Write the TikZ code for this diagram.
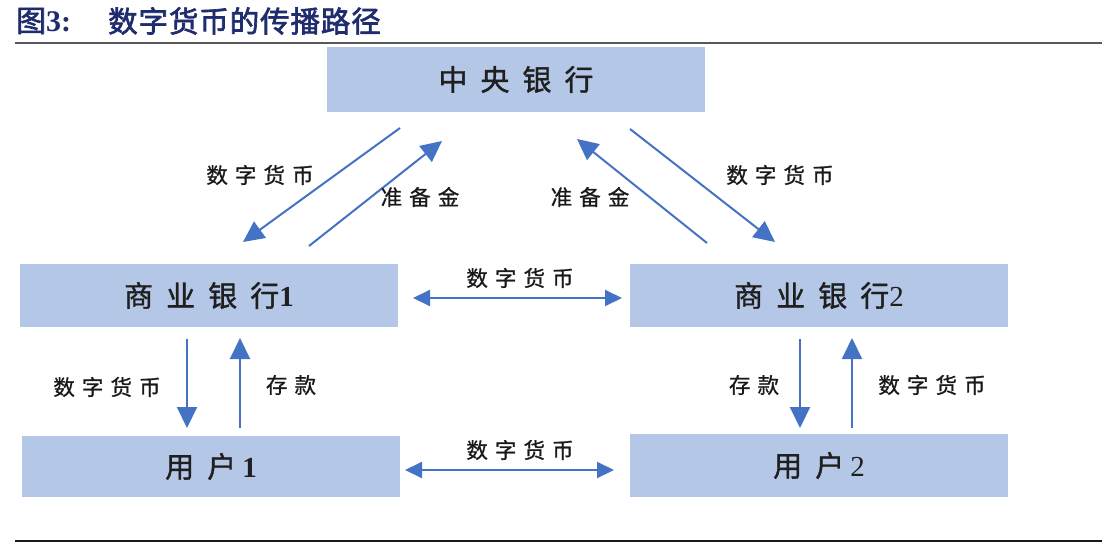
\documentclass[tikz,border=0pt]{standalone}
\usepackage{fontspec}
\setmainfont{Liberation Serif}
\newfontfamily\cjk{Noto Sans CJK SC}
\newfontfamily\cjktitle[FakeBold=2.2,LetterSpace=3]{Noto Sans CJK SC}
\newfontfamily\cjkbox[LetterSpace=45,FakeBold=1.2]{Noto Sans CJK SC}
\newfontfamily\cjklab[LetterSpace=33,FakeBold=1]{Noto Sans CJK SC}
\usetikzlibrary{arrows.meta}
\definecolor{boxfill}{HTML}{B4C7E7}
\definecolor{arr}{HTML}{4472C4}
\definecolor{navy}{HTML}{1F2C6E}
\tikzset{
  bank/.style={rectangle, fill=boxfill, minimum width=378pt, minimum height=63pt, inner sep=0pt,
    font=\cjkbox\fontsize{29}{32}\selectfont, text=black!88},
  flow/.style={draw=arr, line width=2pt, -{Triangle[length=21pt,width=20pt]}},
  both/.style={draw=arr, line width=2pt, {Triangle[length=17pt,width=16pt]}-{Triangle[length=17pt,width=16pt]}},
  lab/.style={font=\cjklab\fontsize{21.5}{24}\selectfont, inner sep=0pt, text=black!90},
  rule/.style={line width=1.6pt}
}
\begin{document}
\begin{tikzpicture}[x=1pt,y=-1pt]
\useasboundingbox (0,0) rectangle (1102,551);
% title
\node[anchor=west, inner sep=0pt, text=navy, font=\fontsize{30}{32}\selectfont] (t1) at (16,21) {{\cjktitle\mdseries 图}{\bfseries 3:}};
\node[anchor=west, inner sep=0pt, text=navy, font=\cjktitle\mdseries\fontsize{29.5}{32}\selectfont] (t2) at (108,21) {数字货币的传播路径};
\coordinate (r1a) at (15,43); \coordinate (r1b) at (1102,43);
\draw[rule, draw=black!65] (r1a) -- (r1b);
\coordinate (r2a) at (15,541); \coordinate (r2b) at (1102,541);
\draw[rule, draw=black!90] (r2a) -- (r2b);
% boxes
\node[bank, minimum height=64pt] (cb) at (516,79.5) {中央银行};
\node[bank] (b1) at (209,295.5) {商业银行{\rmfamily\bfseries 1}};
\node[bank] (b2) at (819,295.5) {商业银行{\rmfamily 2}};
\node[bank, minimum height=61pt] (u1) at (211,466.5) {用户{\rmfamily\bfseries\hspace{6pt}1}};
\node[bank] (u2) at (819,465.5) {用户{\rmfamily\hspace{6pt}2}};
% diagonal arrows
\coordinate (d1s) at (400,128); \coordinate (d1e) at (243,242);
\coordinate (d2s) at (309,246); \coordinate (d2e) at (442,141);
\coordinate (d3s) at (707,243); \coordinate (d3e) at (577,139);
\coordinate (d4s) at (630,129); \coordinate (d4e) at (775,242);
\draw[flow] (d1s) -- (d1e);
\draw[flow] (d2s) -- (d2e);
\draw[flow] (d3s) -- (d3e);
\draw[flow] (d4s) -- (d4e);
% horizontal arrows
\coordinate (h1s) at (413,298); \coordinate (h1e) at (622,298);
\coordinate (h2s) at (405,470); \coordinate (h2e) at (614,470);
\draw[both] (h1s) -- (h1e);
\draw[both] (h2s) -- (h2e);
% vertical arrows
\coordinate (v1s) at (187,339); \coordinate (v1e) at (187,428);
\coordinate (v2s) at (240,428); \coordinate (v2e) at (240,338);
\coordinate (v3s) at (800,339); \coordinate (v3e) at (800,428);
\coordinate (v4s) at (852,428); \coordinate (v4e) at (852,338);
\draw[flow] (v1s) -- (v1e);
\draw[flow] (v2s) -- (v2e);
\draw[flow] (v3s) -- (v3e);
\draw[flow] (v4s) -- (v4e);
% labels
\node[lab] (l1) at (260,175) {数字货币};
\node[lab] (l2) at (420,197) {准备金};
\node[lab] (l3) at (590,197) {准备金};
\node[lab] (l4) at (780,175) {数字货币};
\node[lab] (l5) at (520,278) {数字货币};
\node[lab] (l6) at (520,450) {数字货币};
\node[lab] (l7) at (107,387) {数字货币};
\node[lab] (l8) at (291,385) {存款};
\node[lab] (l9) at (754,385) {存款};
\node[lab] (l10) at (932,385) {数字货币};
\end{tikzpicture}
\end{document}
